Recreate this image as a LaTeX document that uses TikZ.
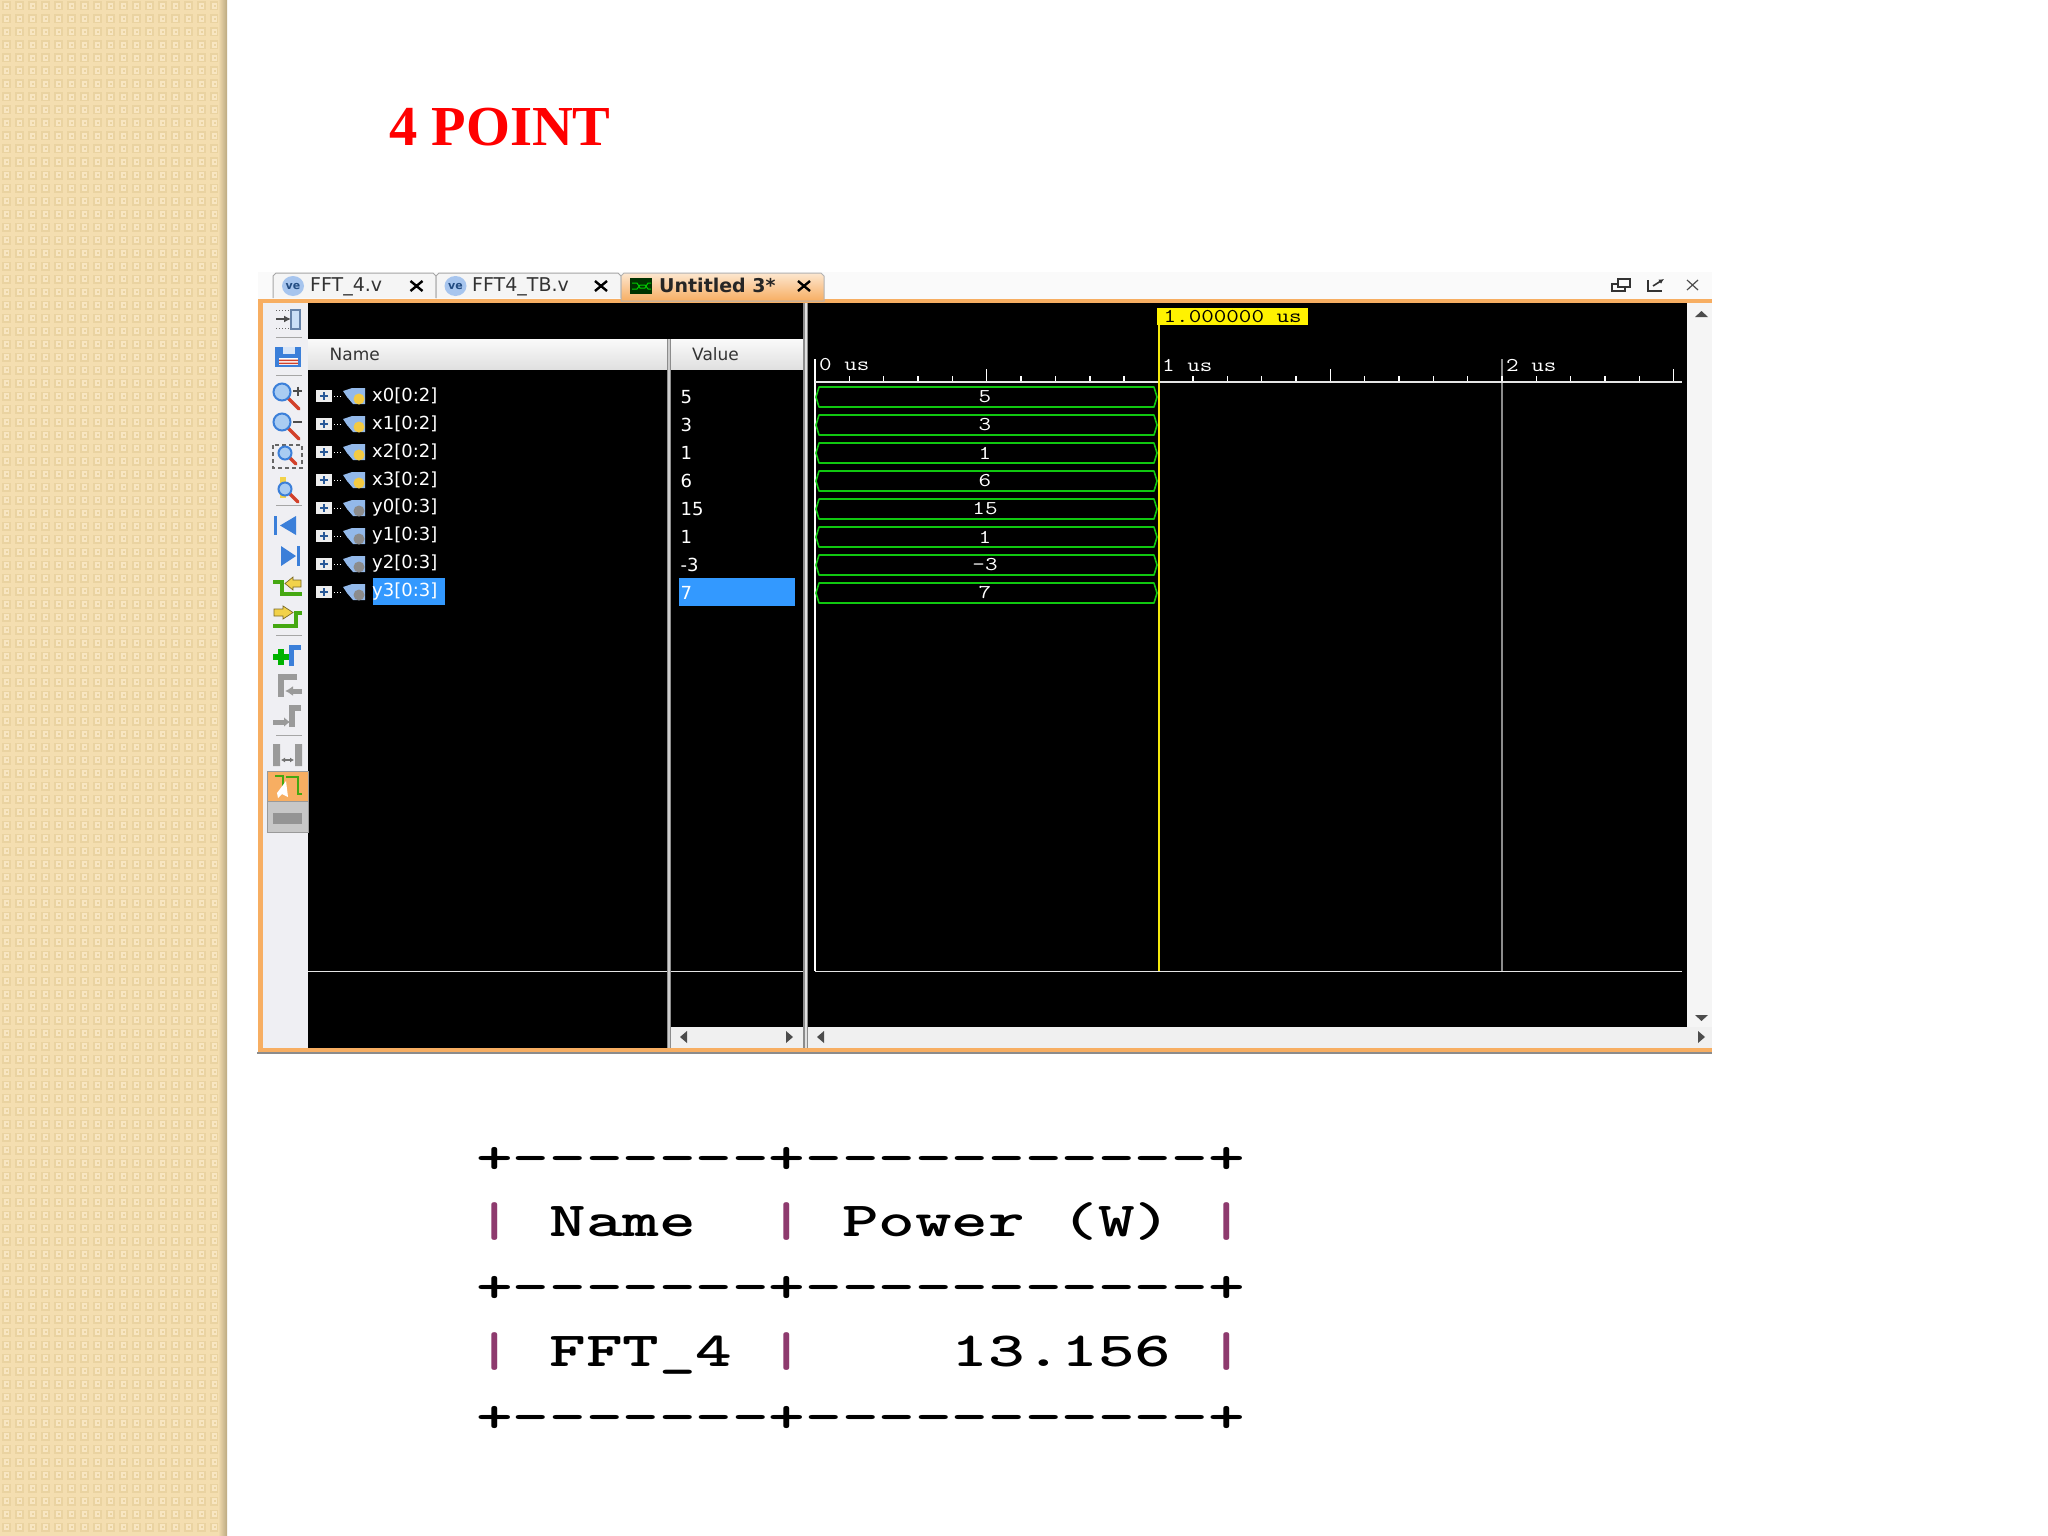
\documentclass[tikz,border=0pt]{standalone}
\usepackage{fontspec}
\usepackage{graphicx}
\usetikzlibrary{arrows.meta}
\setmainfont{DejaVu Sans}
\newfontfamily\titlefont{Liberation Serif}
\definecolor{winorange}{HTML}{F7AE62}
\definecolor{barbg}{HTML}{EFEFF3}
\definecolor{hdrbg}{HTML}{EDEDED}
\definecolor{wavegreen}{HTML}{10C810}
\definecolor{selblue}{HTML}{3399FF}
\definecolor{iconblue}{HTML}{3B7FD9}
\definecolor{icongreen}{HTML}{45A812}
\definecolor{iconyellow}{HTML}{F2D24A}
\definecolor{icongray}{HTML}{9A9A9A}
\definecolor{lensblue}{HTML}{A9CCF2}
\definecolor{handlered}{HTML}{D2402A}
\definecolor{barpurple}{HTML}{8E3A6E}
\definecolor{tileA}{HTML}{F4DEB0}
\definecolor{tileB}{HTML}{EAD3A1}
\definecolor{tileC}{HTML}{F8E6C2}
\tikzset{
  sepline/.style={draw=black!35,line width=1pt},
  uitext/.style={text=white,font=\fontsize{18}{20}\selectfont,anchor=west,inner sep=0pt},
  wavebox/.style={draw=wavegreen,line width=1.6pt,line join=round},
  wavetext/.style={text=white,inner sep=0pt},
  tablerow/.style={anchor=base west,inner sep=0pt,text=black},
  iconbar/.style={line width=4pt,line join=miter},
  scrollarrow/.style={fill=black!70,draw=none},
}
\newcommand{\bmfont}[1]{\scalebox{1.25}[1]{\fontsize{19.5}{20}\selectfont\ttfamily #1}}
\newcommand{\tblfont}{\fontsize{49}{50}\selectfont\ttfamily\bfseries}
\newcommand{\tbl}[1]{\scalebox{1.4227}[1]{\tblfont #1}}
\newcommand{\dsh}{-{}}
\newcommand{\vb}{\textcolor{barpurple}{|}}
\newcommand{\seven}{\dsh\dsh\dsh\dsh\dsh\dsh\dsh}
\newcommand{\eleven}{\dsh\dsh\dsh\dsh\dsh\dsh\dsh\dsh\dsh\dsh\dsh}
\newcommand{\lens}[4]{%
  \draw[handlered,line width=3.4pt,line cap=round] (#1,#2) -- ++(#4,#4);
  \draw[iconblue,fill=lensblue,line width=2pt] (#1,#2) circle[radius=#3];}
\newcommand{\sigrow}[5]{% index, name, value, folder accent, suffix
  \pgfmathsetmacro{\rt}{396+28*#1}
  \pgfmathsetmacro{\rv}{397+28*#1}
  \pgfmathsetmacro{\wt}{387+28*#1}
  \pgfmathsetmacro{\wc}{397+28*#1}
  \pgfmathsetmacro{\wb}{407+28*#1}
  \fill[hdrbg] (316,\rt-6) rectangle (332,\rt+6);
  \draw[iconblue!70!black,line width=1.2pt] (320,\rt) -- (328,\rt) (324,\rt-4) -- (324,\rt+4);
  \draw[white,line width=1pt,dotted] (334,\rt) -- (342,\rt);
  \fill[iconblue!55!white] (343,\rt-5) -- (352,\rt-8) -- (365,\rt-8) -- (365,\rt+8) -- (353,\rt+8) -- (347,\rt+1) -- cycle;
  \fill[#4] (359,\rt+3) circle[radius=5.5];
  \node[uitext] (name#1) at (372,\rt) {#2};
  \node[uitext] (val#1) at (680.5,\rv) {#3};
  \draw[wavebox] (816,\wc) -- (819,\wt) -- (1154,\wt) -- (1157,\wc) -- (1154,\wb) -- (819,\wb) -- cycle;
  \node[wavetext] (wave#1) at (985,\wc) {\bmfont{#3}};
}
\begin{document}
\begin{tikzpicture}[x=1pt,y=-1pt]
\useasboundingbox (0,0) rectangle (2048,1536);
\fill[white] (0,0) rectangle (2048,1536);
% textured side band
\fill[tileA] (0,0) rectangle (220,1536);
\foreach \i in {0,...,16}{
  \foreach \j in {0,...,118}{
    \pgfmathsetmacro{\cx}{6.5+13*\i}
    \pgfmathsetmacro{\cy}{6+13*\j}
    \fill[tileB] (\cx-4.5,\cy-4.5) rectangle (\cx+4.5,\cy+4.5);
    \fill[tileC] (\cx-2.6,\cy-2.6) rectangle (\cx+2.6,\cy+2.6);
    \fill[tileB] (\cx-1,\cy-1) rectangle (\cx+1,\cy+1);
  }
}
\shade[left color=tileA,right color=black!20!tileB,shading=axis] (218,0) rectangle (227,1536);
% title
\node[anchor=base,inner sep=0pt,text=red,font=\titlefont\bfseries\fontsize{56.5}{60}\selectfont] (title) at (500,146) {4 POINT};
% window frame
\fill[black!2] (258,272) rectangle (1712,299);
\fill[black!45] (257,1052) rectangle (1712,1053.5);
\fill[winorange] (258,299) rectangle (1712,303);
\fill[winorange] (258,299) rectangle (263,1052);
\fill[winorange] (258,1048) rectangle (1712,1052);
\fill[barbg] (263,303) rectangle (308,1048);
\fill[black] (308,303) rectangle (1687,1048);
% scrollbars
\fill[black!4] (1687,303) rectangle (1712,1048);
\fill[black!6] (670.5,1027) rectangle (1712,1048);
\fill[scrollarrow] (1695,317) -- (1708,317) -- (1701.5,311) -- cycle;
\fill[scrollarrow] (1695,1015) -- (1708,1015) -- (1701.5,1021) -- cycle;
\fill[scrollarrow] (687,1031) -- (687,1043) -- (680,1037) -- cycle;
\fill[scrollarrow] (786,1031) -- (786,1043) -- (793,1037) -- cycle;
\fill[scrollarrow] (824,1031) -- (824,1043) -- (817,1037) -- cycle;
\fill[scrollarrow] (1698,1031) -- (1698,1043) -- (1705,1037) -- cycle;
% tabs
\draw[black!35,fill=black!4,line width=1pt] (273,298) -- (273,276) -- (276,273) -- (433,273) -- (436,276) -- (436,298);
\draw[black!35,fill=black!4,line width=1pt] (436,298) -- (436,276) -- (439,273) -- (618,273) -- (621,276) -- (621,298);
\shade[top color=white!70!winorange,bottom color=winorange,draw=black!30,line width=1pt] (621,301) -- (621,276) -- (624,273) -- (821,273) -- (824,276) -- (824,301) -- cycle;
\foreach \cx/\nm in {293/tabveA,455.5/tabveB}{
  \fill[iconblue!45] (\cx,286) ellipse[x radius=11,y radius=10];
  \node[inner sep=0pt,text=iconblue!60!black,font=\fontsize{11}{12}\selectfont\bfseries] (\nm) at (\cx,286) {ve};
}
\node[anchor=west,inner sep=0pt,text=black!80,font=\fontsize{19}{20}\selectfont] (tabA) at (310,287) {FFT\_4.v};
\node[anchor=west,inner sep=0pt,text=black!80,font=\fontsize{19}{20}\selectfont] (tabB) at (472,287) {FFT4\_TB.v};
\node[anchor=west,inner sep=0pt,text=black!85,font=\fontsize{19}{20}\selectfont\bfseries] (tabC) at (659,285.5) {Untitled 3*};
\foreach \cx in {416.5,601,804}{
  \draw[black,line width=2.4pt] (\cx-6,281) -- (\cx+6,291) (\cx-6,291) -- (\cx+6,281);
}
\fill[black!80!green] (630,278) rectangle (652,294);
\draw[green!80!black,line width=1pt] (632,283) -- (637,283) -- (640,288) -- (645,288) -- (648,283) -- (651,283) (632,289) -- (637,289) -- (640,285) -- (645,285) -- (648,289) -- (651,289);
% window buttons
\draw[black!80,line width=1.4pt] (1612,284) rectangle (1625,291);
\draw[black!80,line width=1.4pt,fill=black!2] (1618,279) rectangle (1630,287);
\draw[black!80,line width=1.4pt] (1648,280) -- (1648,291) -- (1662,291);
\draw[black!80,line width=1.6pt,-{Latex[length=5pt,width=5pt]}] (1653,286) -- (1664,279);
\draw[black!70,line width=1.2pt] (1687,280) -- (1698,290) (1687,290) -- (1698,280);
% column headers and dividers
\shade[top color=black!2,bottom color=black!12] (308,339) rectangle (667,369);
\shade[top color=black!2,bottom color=black!12] (670.5,339) rectangle (803,369);
\fill[black!45] (667,339) rectangle (670.5,1048);
\fill[black!20] (668,339) rectangle (669.5,1048);
\fill[black!45] (803,303) rectangle (808,1048);
\fill[black!12] (804.5,303) rectangle (806.5,1048);
\node[anchor=west,inner sep=0pt,text=black!80,font=\fontsize{17}{18}\selectfont] (hdrName) at (329.5,354) {Name};
\node[anchor=west,inner sep=0pt,text=black!80,font=\fontsize{17}{18}\selectfont] (hdrValue) at (692,354) {Value};
% selection
\fill[selblue] (372.5,578) rectangle (445,605);
\fill[selblue] (678.6,578) rectangle (794.6,606);
% timeline
\draw[black!45,line width=1.2pt] (1502,359) -- (1502,971);
\draw[white,line width=1.4pt] (815,359) -- (815,971);
\foreach \k in {0,...,25}{
  \pgfmathsetmacro{\tx}{815+34.35*\k}
  \draw[white,line width=1.4pt] (\tx,376) -- (\tx,382);
}
\foreach \tx in {986.7,1330.2,1673.7}{
  \draw[white,line width=1.4pt] (\tx,369) -- (\tx,382);
}
\draw[black!10,line width=1.6pt] (815,382) -- (1682,382);
\draw[yellow!95!black,line width=1.5pt] (1158.8,325) -- (1158.8,971);
\node[fill=yellow,anchor=center,minimum width=151.5pt,minimum height=17pt,inner sep=0pt,text=black] (cursorlbl) at (1232.7,316.5) {\bmfont{1.000000 us}};
\node[anchor=west,inner sep=0pt,text=white] (t0) at (819,365) {\bmfont{0 us}};
\node[anchor=west,inner sep=0pt,text=white] (t1) at (1162,365) {\bmfont{1 us}};
\node[anchor=west,inner sep=0pt,text=white] (t2) at (1506,365) {\bmfont{2 us}};
% bottom rules
\draw[black!10,line width=1.2pt] (308,971.7) -- (667,971.7) (670.5,971.7) -- (803,971.7) (815,971.7) -- (1682,971.7);
% signals
\sigrow{0}{x0[0:2]}{5}{iconyellow!90!orange}{}
\sigrow{1}{x1[0:2]}{3}{iconyellow!90!orange}{}
\sigrow{2}{x2[0:2]}{1}{iconyellow!90!orange}{}
\sigrow{3}{x3[0:2]}{6}{iconyellow!90!orange}{}
\sigrow{4}{y0[0:3]}{15}{black!45}{}
\sigrow{5}{y1[0:3]}{1}{black!45}{}
\sigrow{6}{y2[0:3]}{-3}{black!45}{}
\sigrow{7}{y3[0:3]}{7}{black!45}{}
% toolbar icons
\draw[black!60,line width=1pt,dotted] (276,310) -- (290,310) (276,328) -- (290,328);
\draw[black!70,line width=1.6pt,-{Latex[length=7pt,width=7pt]}] (276,319) -- (291,319);
\draw[iconblue!60!black!70,fill=lensblue!60,line width=1.4pt] (291,310) rectangle (300,329);
\draw[sepline] (276,337) -- (302,337);
\fill[iconblue] (275,347) rectangle (301,367);
\fill[white] (279,358) rectangle (298,365);
\fill[handlered] (279,359.5) rectangle (298,361) (279,362.5) rectangle (298,364);
\fill[white!80!iconblue] (283,347) rectangle (295,354);
\draw[sepline] (276,375) -- (302,375);
\lens{282}{392}{8.5}{17}
\draw[black!70,line width=2pt] (293,391) -- (302,391) (297.5,386.5) -- (297.5,395.5);
\lens{282}{422}{8.5}{17}
\draw[black!70,line width=2pt] (293,422) -- (302,422);
\draw[black!60,line width=2pt,dash pattern=on 4pt off 3pt] (273,445) rectangle (302,468);
\lens{285}{453}{6.5}{11}
\fill[iconyellow] (280,477) rectangle (286,498);
\lens{285}{489}{6.5}{13}
\draw[sepline] (276,505) -- (302,505);
\fill[iconblue] (274,516) rectangle (277,535);
\fill[iconblue] (296,516) -- (296,535) -- (280,525.5) -- cycle;
\fill[iconblue] (297,546) rectangle (300,566);
\fill[iconblue] (281,546) -- (281,566) -- (296,556) -- cycle;
\draw[icongreen,iconbar] (273,582) -- (282,582) -- (282,594) -- (302,594);
\draw[black!50!iconyellow,fill=iconyellow,line width=.7pt] (301,580) -- (293,580) -- (293,577) -- (285,583.5) -- (293,590) -- (293,587) -- (301,587) -- cycle;
\draw[icongreen,iconbar] (273,626) -- (296,626) -- (296,613) -- (302,613);
\draw[black!50!iconyellow,fill=iconyellow,line width=.7pt] (274,609) -- (283,609) -- (283,606) -- (293,612.5) -- (283,619) -- (283,616) -- (274,616) -- cycle;
\draw[sepline] (276,635) -- (302,635);
\draw[iconblue,line width=5pt] (291,666) -- (291,647) -- (301,647);
\draw[green!70!black,line width=5.5pt] (273,657) -- (289,657) (281,649) -- (281,665);
\draw[icongray,line width=6pt] (297,677) -- (281,677) -- (281,697);
\draw[icongray,line width=5pt,-{Latex[length=8pt,width=10pt]}] (302,691) -- (285,691);
\draw[icongray,line width=6pt] (301,708) -- (292,708) -- (292,727);
\draw[icongray,line width=5pt,-{Latex[length=6pt,width=10pt]}] (273,722) -- (290,722);
\draw[sepline] (276,735) -- (302,735);
\fill[icongray] (273,744) rectangle (280,766) (295,744) rectangle (302,766);
\draw[black!55,line width=1.2pt,{Latex[length=4pt,width=5pt]}-{Latex[length=4pt,width=5pt]}] (281,760) -- (294,760);
\fill[winorange] (267,771) rectangle (308,801);
\draw[black!40,line width=1pt] (267,771) rectangle (308,801);
\draw[icongreen,line width=1.8pt] (275,776) -- (283,776) -- (283,790) (286,777) -- (298,777) -- (298,794) -- (302,794);
\fill[white] (286,781) -- (288,797) -- (282,794) -- (278,798) -- (277,793) -- cycle;
\fill[black!22] (267,801) rectangle (308,832);
\draw[black!40,line width=1pt] (267,801) rectangle (308,832);
\fill[black!42] (273,813) rectangle (302,824);
% power table
\node[tablerow] (rowA) at (476,1173) {\tbl{+\seven+\eleven+}};
\node[tablerow] (rowB) at (476,1236.5) {\tbl{\vb{}~Name~~\vb{}~Power~(W)~\vb}};
\node[tablerow] (rowC) at (476,1302) {\tbl{+\seven+\eleven+}};
\node[tablerow] (rowD) at (476,1366.5) {\tbl{\vb{}~FFT\_4~\vb{}~~~~13.156~\vb}};
\node[tablerow] (rowE) at (476,1432) {\tbl{+\seven+\eleven+}};
\end{tikzpicture}
\end{document}
